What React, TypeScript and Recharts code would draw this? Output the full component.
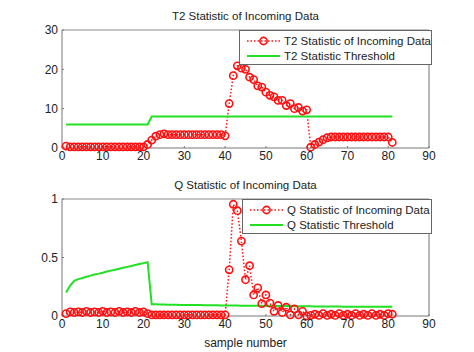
import { Line, LineChart, ReferenceLine, XAxis, YAxis } from 'recharts'

const samples = Array.from({ length: 81 }, (_, i) => i + 1)

const t2Values = [
  0.5, 0.3, 0.3, 0.3, 0.3, 0.3, 0.3, 0.3, 0.3, 0.3, 0.3, 0.3, 0.3, 0.3, 0.3, 0.3, 0.3, 0.3, 0.3, 0.3,
  0.9, 2.0, 3.0, 3.4, 3.6, 3.4, 3.4, 3.4, 3.4, 3.4, 3.4, 3.4, 3.4, 3.4, 3.4, 3.4, 3.4, 3.4, 3.4, 3.1,
  11.3, 18.4, 20.9, 20.3, 20.0, 18.0, 17.4, 15.8, 15.5, 14.2, 13.4, 13.0, 12.1, 12.1, 10.8, 11.3, 10.0, 10.3, 9.4, 9.7,
  0.2, 0.9, 1.5, 2.1, 2.6, 2.8, 2.8, 2.8, 2.8, 2.8, 2.8, 2.8, 2.8, 2.8, 2.8, 2.8, 2.8, 2.8, 2.8, 2.8, 1.4,
]

const t2Threshold = [
  6, 6, 6, 6, 6, 6, 6, 6, 6, 6, 6, 6, 6, 6, 6, 6, 6, 6, 6, 6, 6,
  8, 8, 8, 8, 8, 8, 8, 8, 8, 8, 8, 8, 8, 8, 8, 8, 8, 8, 8, 8,
  8, 8, 8, 8, 8, 8, 8, 8, 8, 8, 8, 8, 8, 8, 8, 8, 8, 8, 8, 8,
  8, 8, 8, 8, 8, 8, 8, 8, 8, 8, 8, 8, 8, 8, 8, 8, 8, 8, 8, 8,
]

const qValues = [
  0.02, 0.035, 0.03, 0.035, 0.03, 0.04, 0.03, 0.035, 0.03, 0.04, 0.03, 0.035, 0.03, 0.04, 0.03, 0.035, 0.03, 0.04, 0.03, 0.035,
  0.02, 0.01, 0.01, 0.01, 0.01, 0.01, 0.01, 0.01, 0.01, 0.01, 0.01, 0.01, 0.01, 0.01, 0.01, 0.01, 0.01, 0.01, 0.01, 0.01,
  0.395, 0.955, 0.9, 0.64, 0.31, 0.43, 0.18, 0.24, 0.105, 0.18, 0.11, 0.04, 0.09, 0.03, 0.075, 0.01, 0.06, 0.01, 0.04, 0.0,
  0.005, 0.015, 0.005, 0.02, 0.005, 0.015, 0.005, 0.02, 0.005, 0.015, 0.005, 0.02, 0.005, 0.015, 0.005, 0.02, 0.005, 0.015, 0.005, 0.02, 0.015,
]

const qThreshold = [
  0.2, 0.26, 0.3, 0.315, 0.325, 0.335, 0.345, 0.355, 0.362, 0.37, 0.38, 0.388, 0.396, 0.404, 0.412, 0.42, 0.428, 0.436, 0.444, 0.452, 0.46,
  0.1, 0.1, 0.099, 0.098, 0.097, 0.096, 0.096, 0.095, 0.095, 0.094, 0.094, 0.093, 0.093, 0.092, 0.092, 0.091, 0.091, 0.09, 0.09, 0.09,
  0.089, 0.089, 0.088, 0.088, 0.088, 0.087, 0.087, 0.087, 0.086, 0.086, 0.086, 0.085, 0.085, 0.085, 0.084, 0.084, 0.084, 0.083, 0.083, 0.083,
  0.082, 0.082, 0.082, 0.081, 0.081, 0.081, 0.081, 0.08, 0.08, 0.08, 0.08, 0.08, 0.079, 0.079, 0.079, 0.079, 0.078, 0.078, 0.078, 0.078,
]

const xTicks = [0, 10, 20, 30, 40, 50, 60, 70, 80, 90]
const t2Ticks = [0, 10, 20, 30]
const qTicks = [0, 0.5, 1]

const FONT = '"Liberation Sans", Arial, sans-serif'
const RED = '#ff1010'
const GREEN = '#22e022'
const AXIS = '#777'
const BOX = '#8a8a8a'
const TICK = { fontSize: 12, fill: '#222', fontFamily: FONT }

const W = 474
const H = 176
const LEFT = 62
const RIGHT = 45

const t2Data = samples.map((s, i) => ({ s, value: t2Values[i], threshold: t2Threshold[i] }))
const qData = samples.map((s, i) => ({ s, value: qValues[i], threshold: qThreshold[i] }))

function LegendBox({ names, left, top }: { names: string[]; left: number; top: number }) {
  return (
    <div
      style={{
        position: 'absolute',
        zIndex: 3,
        left,
        top,
        width: W - RIGHT + 3 - left,
        height: 35,
        border: '1px solid #666',
        background: '#fff',
        fontFamily: FONT,
        fontSize: 11.5,
        color: '#222',
        boxSizing: 'border-box',
      }}
    >
      {names.map((name, i) => (
        <div key={name} style={{ display: 'flex', alignItems: 'center', height: 15, marginTop: i === 0 ? 2 : 0 }}>
          <svg width={44} height={14} style={{ flex: 'none' }}>
            {i === 0 ? (
              <>
                <line x1={7} x2={40} y1={7} y2={7} stroke={RED} strokeWidth={1.5} strokeDasharray="1.5 2" />
                <circle cx={23.5} cy={7} r={3.6} fill="none" stroke={RED} strokeWidth={1.6} />
              </>
            ) : (
              <line x1={7} x2={40} y1={7} y2={7} stroke={GREEN} strokeWidth={2} />
            )}
          </svg>
          <span style={{ whiteSpace: 'nowrap' }}>{name}</span>
        </div>
      ))}
    </div>
  )
}

function Panel({
  data,
  yTicks,
  yMax,
  names,
  title,
  xLabel,
  marginTop,
  legendLeft,
}: {
  data: { s: number; value: number; threshold: number }[]
  yTicks: number[]
  yMax: number
  names: string[]
  title: string
  xLabel?: string
  marginTop: number
  legendLeft: number
}) {
  const bottom = xLabel ? 36 : 28
  return (
    <div style={{ position: 'relative', width: W, height: H }}>
      <div
        style={{
          position: 'absolute',
          top: marginTop - 20,
          left: LEFT,
          width: W - LEFT - RIGHT,
          textAlign: 'center',
          fontFamily: FONT,
          fontSize: 11.5,
          color: '#222',
        }}
      >
        {title}
      </div>
      <LineChart width={W} height={H} data={data} margin={{ top: marginTop, right: RIGHT, bottom: 0, left: LEFT - 32 }}>
        <XAxis
          dataKey="s"
          type="number"
          domain={[0, 90]}
          ticks={xTicks}
          interval={0}
          tick={TICK}
          tickSize={-2}
          tickMargin={5}
          stroke={AXIS}
          height={bottom}
          label={xLabel ? { value: xLabel, position: 'insideBottom', offset: 5, style: { fontSize: 12, fill: '#222', fontFamily: FONT } } : undefined}
        />
        <YAxis
          type="number"
          domain={[0, yMax]}
          ticks={yTicks}
          interval={0}
          tick={TICK}
          tickSize={-2}
          tickMargin={6}
          stroke={AXIS}
          width={32}
        />
        {/* top and right edges of the axes box */}
        <ReferenceLine y={yMax} stroke={BOX} strokeWidth={1.2} ifOverflow="visible" />
        <ReferenceLine x={90} stroke={BOX} strokeWidth={1.2} ifOverflow="visible" />
        <Line
          dataKey="value"
          name={names[0]}
          stroke={RED}
          strokeWidth={1.5}
          strokeDasharray="1.5 2"
          dot={{ r: 3.6, fill: 'none', stroke: RED, strokeWidth: 1.6, strokeDasharray: '' }}
          isAnimationActive={false}
        />
        <Line
          dataKey="threshold"
          name={names[1]}
          stroke={GREEN}
          strokeWidth={2}
          dot={false}
          isAnimationActive={false}
        />
      </LineChart>
      <LegendBox names={names} left={legendLeft} top={marginTop} />
    </div>
  )
}

export default function App() {
  return (
    <div style={{ position: 'fixed', left: 0, top: 0, width: W, height: 352, background: '#fff' }}>
      <Panel
        data={t2Data}
        yTicks={t2Ticks}
        yMax={30}
        names={['T2 Statistic of Incoming Data', 'T2 Statistic Threshold']}
        title="T2 Statistic of Incoming Data"
        marginTop={30}
        legendLeft={239}
      />
      <Panel
        data={qData}
        yTicks={qTicks}
        yMax={1}
        names={['Q Statistic of Incoming Data', 'Q Statistic Threshold']}
        title="Q Statistic of Incoming Data"
        xLabel="sample number"
        marginTop={23}
        legendLeft={242}
      />
    </div>
  )
}
